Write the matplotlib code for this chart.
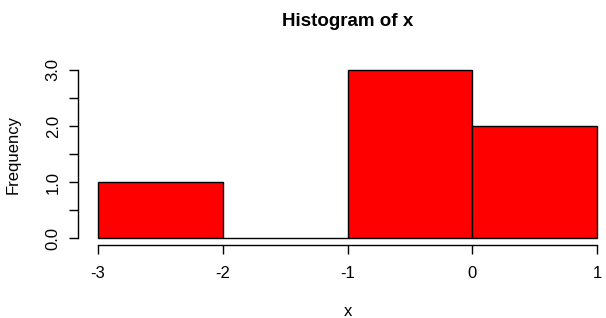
import matplotlib.pyplot as plt
import numpy as np

# histogram bins and counts
bin_edges = [-3, -2, -1, 0, 1]
counts = [1, 0, 3, 2]
x_ticks = [-3, -2, -1, 0, 1]
y_ticks = [0, 0.5, 1, 1.5, 2, 2.5, 3]
y_labels = ['0.0', '', '1.0', '', '2.0', '', '3.0']

plt.rcParams['font.family'] = ['Liberation Sans', 'DejaVu Sans']

W, H = 606, 318
fig = plt.figure(figsize=(W / 100, H / 100), dpi=100)
left, right = 98.0, 597.0
top, bottom = 70.0, 238.0
ax = fig.add_axes([left / W, (H - bottom) / H, (right - left) / W, (bottom - top) / H])

edges = np.array(bin_edges)
# clip_on=False so the base line of the empty bin is not cut in half
ax.bar(edges[:-1], counts, width=np.diff(edges), align='edge',
       color='#ff0000', edgecolor='black', linewidth=1.0, clip_on=False)

ax.set_xlim(-3, 1)
ax.set_ylim(0, 3)
for s in ['top', 'right']:
    ax.spines[s].set_visible(False)
ax.spines['left'].set_position(('outward', 14.4))
ax.spines['bottom'].set_position(('outward', 5.0))
ax.spines['left'].set_bounds(0, 3)
ax.spines['bottom'].set_bounds(-3, 1)
for s in ['left', 'bottom']:
    ax.spines[s].set_linewidth(1.0)

ax.set_xticks(x_ticks)
ax.set_xticklabels([str(v) for v in x_ticks])
ax.set_yticks(y_ticks)
ax.set_yticklabels(y_labels, rotation=90, va='center')
ax.tick_params(axis='both', length=6.5, width=1.0, labelsize=12, pad=6)
ax.tick_params(axis='x', pad=9)

ax.set_xlabel('x', fontsize=12, labelpad=16)
ax.set_ylabel('Frequency', fontsize=12, labelpad=18)
fig.text((left + right) / 2 / W, 1 - 22 / H, 'Histogram of x',
         ha='center', va='center', fontsize=13.5, fontweight='bold')

fig.savefig('out.png', dpi=100)
